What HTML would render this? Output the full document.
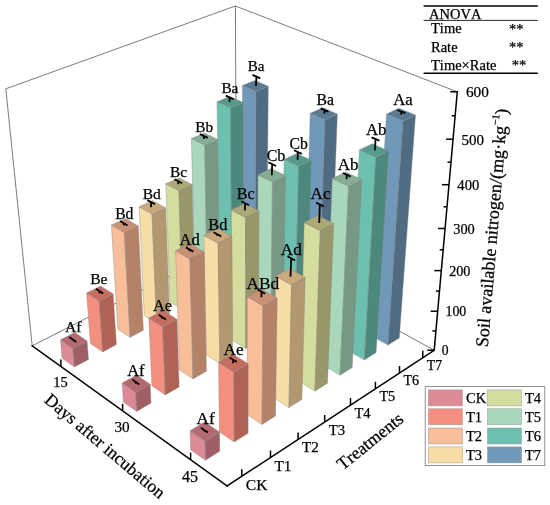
<!DOCTYPE html>
<html lang="en"><head><meta charset="utf-8"><title>Soil available nitrogen</title>
<style>html,body{margin:0;padding:0;background:#fff}svg{display:block}text{font-kerning:none;stroke:#000;stroke-width:.25px}</style></head>
<body>
<svg width="550" height="505" viewBox="0 0 550 505" font-family="'Liberation Serif', 'Times New Roman', serif" fill="#000">
<rect width="550" height="505" fill="#fff"/>
<line x1="32.2" y1="345.8" x2="5.8" y2="88.8" stroke="#444" stroke-width="0.7" stroke-linecap="butt"/>
<line x1="5.8" y1="88.8" x2="235.4" y2="6.0" stroke="#444" stroke-width="0.7" stroke-linecap="butt"/>
<line x1="235.4" y1="6.0" x2="457.3" y2="91.8" stroke="#444" stroke-width="0.7" stroke-linecap="butt"/>
<line x1="235.4" y1="6.0" x2="236.5" y2="242.0" stroke="#444" stroke-width="0.7" stroke-linecap="butt"/>
<line x1="32.2" y1="345.8" x2="236.5" y2="242.0" stroke="#444" stroke-width="0.7" stroke-linecap="butt"/>
<line x1="236.5" y1="242.0" x2="434.2" y2="350.2" stroke="#444" stroke-width="0.7" stroke-linecap="butt"/>
<polygon points="242.7,263.8 255.2,270.8 255.9,91.5 242.4,85.6" fill="#7098b8" stroke="#858585" stroke-width="0.4" stroke-linejoin="round"/>
<polygon points="255.2,270.8 266.7,264.7 268.3,86.3 255.9,91.5" fill="#506c83" stroke="#858585" stroke-width="0.4" stroke-linejoin="round"/>
<polygon points="242.4,85.6 255.9,91.5 268.3,86.3 254.8,80.5" fill="#5a7a93" stroke="#858585" stroke-width="0.4" stroke-linejoin="round"/>
<line x1="256.0" y1="86.0" x2="256.4" y2="76.6" stroke="#000" stroke-width="1.8" stroke-linecap="butt"/>
<line x1="252.5" y1="74.9" x2="260.3" y2="78.3" stroke="#000" stroke-width="1.8" stroke-linecap="butt"/>
<polygon points="219.2,276.1 231.7,283.3 230.5,107.9 217.0,101.7" fill="#6cc0b0" stroke="#858585" stroke-width="0.4" stroke-linejoin="round"/>
<polygon points="231.7,283.3 243.5,277.1 243.2,102.5 230.5,107.9" fill="#4d887d" stroke="#858585" stroke-width="0.4" stroke-linejoin="round"/>
<polygon points="217.0,101.7 230.5,107.9 243.2,102.5 229.7,96.5" fill="#569a8d" stroke="#858585" stroke-width="0.4" stroke-linejoin="round"/>
<line x1="229.5" y1="102.1" x2="229.7" y2="97.4" stroke="#000" stroke-width="1.8" stroke-linecap="butt"/>
<line x1="225.8" y1="95.6" x2="233.6" y2="99.2" stroke="#000" stroke-width="1.8" stroke-linecap="butt"/>
<polygon points="195.0,288.8 207.4,296.2 204.7,145.1 191.4,138.5" fill="#a8d8b9" stroke="#858585" stroke-width="0.4" stroke-linejoin="round"/>
<polygon points="207.4,296.2 219.6,289.8 217.7,139.4 204.7,145.1" fill="#779983" stroke="#858585" stroke-width="0.4" stroke-linejoin="round"/>
<polygon points="191.4,138.5 204.7,145.1 217.7,139.4 204.3,132.9" fill="#86ad94" stroke="#858585" stroke-width="0.4" stroke-linejoin="round"/>
<line x1="203.8" y1="139.0" x2="203.9" y2="136.0" stroke="#000" stroke-width="1.8" stroke-linecap="butt"/>
<line x1="200.0" y1="134.1" x2="207.8" y2="137.9" stroke="#000" stroke-width="1.8" stroke-linecap="butt"/>
<polygon points="170.0,301.9 182.4,309.5 178.9,190.7 165.8,183.7" fill="#d5dd9e" stroke="#858585" stroke-width="0.4" stroke-linejoin="round"/>
<polygon points="182.4,309.5 194.9,302.9 192.1,184.6 178.9,190.7" fill="#99976a" stroke="#858585" stroke-width="0.4" stroke-linejoin="round"/>
<polygon points="165.8,183.7 178.9,190.7 192.1,184.6 179.0,177.8" fill="#ada976" stroke="#858585" stroke-width="0.4" stroke-linejoin="round"/>
<line x1="178.2" y1="184.2" x2="178.3" y2="181.2" stroke="#000" stroke-width="1.8" stroke-linecap="butt"/>
<line x1="174.5" y1="179.2" x2="182.1" y2="183.2" stroke="#000" stroke-width="1.8" stroke-linecap="butt"/>
<polygon points="144.3,315.3 156.7,323.2 152.0,214.1 139.1,206.8" fill="#f8dca6" stroke="#858585" stroke-width="0.4" stroke-linejoin="round"/>
<polygon points="156.7,323.2 169.6,316.4 165.6,207.8 152.0,214.1" fill="#b3976f" stroke="#858585" stroke-width="0.4" stroke-linejoin="round"/>
<polygon points="139.1,206.8 152.0,214.1 165.6,207.8 152.6,200.6" fill="#c9a87c" stroke="#858585" stroke-width="0.4" stroke-linejoin="round"/>
<line x1="151.0" y1="207.3" x2="151.2" y2="202.2" stroke="#000" stroke-width="1.8" stroke-linecap="butt"/>
<line x1="147.4" y1="200.1" x2="155.0" y2="204.3" stroke="#000" stroke-width="1.8" stroke-linecap="butt"/>
<polygon points="117.8,329.2 130.1,337.4 124.3,232.5 111.4,225.0" fill="#f8be9a" stroke="#858585" stroke-width="0.4" stroke-linejoin="round"/>
<polygon points="130.1,337.4 143.4,330.3 138.3,225.9 124.3,232.5" fill="#b38267" stroke="#858585" stroke-width="0.4" stroke-linejoin="round"/>
<polygon points="111.4,225.0 124.3,232.5 138.3,225.9 125.4,218.5" fill="#c99174" stroke="#858585" stroke-width="0.4" stroke-linejoin="round"/>
<line x1="123.8" y1="225.4" x2="123.9" y2="223.2" stroke="#000" stroke-width="1.8" stroke-linecap="butt"/>
<line x1="120.2" y1="221.0" x2="127.6" y2="225.4" stroke="#000" stroke-width="1.8" stroke-linecap="butt"/>
<polygon points="90.4,343.5 102.7,351.9 99.2,301.1 86.6,293.0" fill="#f48f80" stroke="#858585" stroke-width="0.4" stroke-linejoin="round"/>
<polygon points="102.7,351.9 116.4,344.6 113.2,294.0 99.2,301.1" fill="#b06256" stroke="#858585" stroke-width="0.4" stroke-linejoin="round"/>
<polygon points="86.6,293.0 99.2,301.1 113.2,294.0 100.7,286.0" fill="#c66d60" stroke="#858585" stroke-width="0.4" stroke-linejoin="round"/>
<line x1="99.5" y1="293.5" x2="99.6" y2="291.1" stroke="#000" stroke-width="1.8" stroke-linecap="butt"/>
<line x1="96.0" y1="288.8" x2="103.2" y2="293.4" stroke="#000" stroke-width="1.8" stroke-linecap="butt"/>
<polygon points="62.1,358.3 74.4,367.0 72.8,348.4 60.5,339.8" fill="#de8a96" stroke="#858585" stroke-width="0.4" stroke-linejoin="round"/>
<polygon points="74.4,367.0 88.5,359.5 87.1,340.9 72.8,348.4" fill="#a05f64" stroke="#858585" stroke-width="0.4" stroke-linejoin="round"/>
<polygon points="60.5,339.8 72.8,348.4 87.1,340.9 74.8,332.5" fill="#b46a70" stroke="#858585" stroke-width="0.4" stroke-linejoin="round"/>
<line x1="72.8" y1="340.3" x2="72.8" y2="339.5" stroke="#000" stroke-width="1.8" stroke-linecap="butt"/>
<line x1="69.3" y1="337.1" x2="76.3" y2="341.9" stroke="#000" stroke-width="1.8" stroke-linecap="butt"/>
<polygon points="305.1,298.8 318.7,306.4 325.0,119.8 310.2,113.3" fill="#7098b8" stroke="#858585" stroke-width="0.4" stroke-linejoin="round"/>
<polygon points="318.7,306.4 330.2,299.8 337.4,114.1 325.0,119.8" fill="#506c83" stroke="#858585" stroke-width="0.4" stroke-linejoin="round"/>
<polygon points="310.2,113.3 325.0,119.8 337.4,114.1 322.6,107.8" fill="#5a7a93" stroke="#858585" stroke-width="0.4" stroke-linejoin="round"/>
<line x1="324.4" y1="113.7" x2="324.5" y2="110.0" stroke="#000" stroke-width="1.8" stroke-linecap="butt"/>
<line x1="320.6" y1="108.3" x2="328.4" y2="111.7" stroke="#000" stroke-width="1.8" stroke-linecap="butt"/>
<polygon points="281.6,312.1 295.1,320.0 298.6,166.3 284.1,159.4" fill="#6cc0b0" stroke="#858585" stroke-width="0.4" stroke-linejoin="round"/>
<polygon points="295.1,320.0 306.9,313.2 311.3,160.3 298.6,166.3" fill="#4d887d" stroke="#858585" stroke-width="0.4" stroke-linejoin="round"/>
<polygon points="284.1,159.4 298.6,166.3 311.3,160.3 296.7,153.4" fill="#569a8d" stroke="#858585" stroke-width="0.4" stroke-linejoin="round"/>
<line x1="297.6" y1="159.8" x2="297.9" y2="152.1" stroke="#000" stroke-width="1.8" stroke-linecap="butt"/>
<line x1="294.0" y1="150.3" x2="301.8" y2="153.9" stroke="#000" stroke-width="1.8" stroke-linecap="butt"/>
<polygon points="257.2,325.9 270.8,334.0 272.5,181.9 258.0,174.7" fill="#a8d8b9" stroke="#858585" stroke-width="0.4" stroke-linejoin="round"/>
<polygon points="270.8,334.0 283.0,327.0 285.6,175.6 272.5,181.9" fill="#779983" stroke="#858585" stroke-width="0.4" stroke-linejoin="round"/>
<polygon points="258.0,174.7 272.5,181.9 285.6,175.6 271.0,168.6" fill="#86ad94" stroke="#858585" stroke-width="0.4" stroke-linejoin="round"/>
<line x1="271.8" y1="175.2" x2="272.2" y2="164.1" stroke="#000" stroke-width="1.8" stroke-linecap="butt"/>
<line x1="268.3" y1="162.2" x2="276.1" y2="166.0" stroke="#000" stroke-width="1.8" stroke-linecap="butt"/>
<polygon points="232.1,340.2 245.7,348.5 245.6,217.5 231.2,209.9" fill="#d5dd9e" stroke="#858585" stroke-width="0.4" stroke-linejoin="round"/>
<polygon points="245.7,348.5 258.3,341.3 259.0,210.9 245.6,217.5" fill="#99976a" stroke="#858585" stroke-width="0.4" stroke-linejoin="round"/>
<polygon points="231.2,209.9 245.6,217.5 259.0,210.9 244.6,203.4" fill="#ada976" stroke="#858585" stroke-width="0.4" stroke-linejoin="round"/>
<line x1="244.9" y1="210.4" x2="245.2" y2="203.3" stroke="#000" stroke-width="1.8" stroke-linecap="butt"/>
<line x1="241.4" y1="201.3" x2="249.0" y2="205.3" stroke="#000" stroke-width="1.8" stroke-linecap="butt"/>
<polygon points="206.3,354.8 219.8,363.5 218.2,243.2 203.9,235.3" fill="#f8dca6" stroke="#858585" stroke-width="0.4" stroke-linejoin="round"/>
<polygon points="219.8,363.5 232.7,356.0 231.9,236.3 218.2,243.2" fill="#b3976f" stroke="#858585" stroke-width="0.4" stroke-linejoin="round"/>
<polygon points="203.9,235.3 218.2,243.2 231.9,236.3 217.6,228.5" fill="#c9a87c" stroke="#858585" stroke-width="0.4" stroke-linejoin="round"/>
<line x1="217.2" y1="235.8" x2="217.3" y2="234.3" stroke="#000" stroke-width="1.8" stroke-linecap="butt"/>
<line x1="213.5" y1="232.2" x2="221.1" y2="236.4" stroke="#000" stroke-width="1.8" stroke-linecap="butt"/>
<polygon points="179.5,370.0 193.0,378.9 189.9,258.9 175.6,250.7" fill="#f8be9a" stroke="#858585" stroke-width="0.4" stroke-linejoin="round"/>
<polygon points="193.0,378.9 206.4,371.2 204.1,251.8 189.9,258.9" fill="#b38267" stroke="#858585" stroke-width="0.4" stroke-linejoin="round"/>
<polygon points="175.6,250.7 189.9,258.9 204.1,251.8 189.8,243.7" fill="#c99174" stroke="#858585" stroke-width="0.4" stroke-linejoin="round"/>
<line x1="189.5" y1="251.2" x2="189.6" y2="249.5" stroke="#000" stroke-width="1.8" stroke-linecap="butt"/>
<line x1="185.9" y1="247.4" x2="193.3" y2="251.6" stroke="#000" stroke-width="1.8" stroke-linecap="butt"/>
<polygon points="151.9,385.7 165.3,394.9 162.6,326.9 148.8,318.1" fill="#f48f80" stroke="#858585" stroke-width="0.4" stroke-linejoin="round"/>
<polygon points="165.3,394.9 179.2,386.9 177.0,319.3 162.6,326.9" fill="#b06256" stroke="#858585" stroke-width="0.4" stroke-linejoin="round"/>
<polygon points="148.8,318.1 162.6,326.9 177.0,319.3 163.1,310.6" fill="#c66d60" stroke="#858585" stroke-width="0.4" stroke-linejoin="round"/>
<line x1="162.2" y1="318.7" x2="162.3" y2="317.1" stroke="#000" stroke-width="1.8" stroke-linecap="butt"/>
<line x1="158.7" y1="314.8" x2="165.9" y2="319.4" stroke="#000" stroke-width="1.8" stroke-linecap="butt"/>
<polygon points="123.3,401.9 136.7,411.4 135.7,392.4 122.2,382.9" fill="#de8a96" stroke="#858585" stroke-width="0.4" stroke-linejoin="round"/>
<polygon points="136.7,411.4 151.0,403.1 150.2,384.2 135.7,392.4" fill="#a05f64" stroke="#858585" stroke-width="0.4" stroke-linejoin="round"/>
<polygon points="122.2,382.9 135.7,392.4 150.2,384.2 136.6,374.9" fill="#b46a70" stroke="#858585" stroke-width="0.4" stroke-linejoin="round"/>
<line x1="135.7" y1="383.6" x2="135.8" y2="382.0" stroke="#000" stroke-width="1.8" stroke-linecap="butt"/>
<line x1="132.3" y1="379.6" x2="139.3" y2="384.4" stroke="#000" stroke-width="1.8" stroke-linecap="butt"/>
<polygon points="373.1,336.8 387.9,345.1 403.0,121.1 386.5,114.1" fill="#7098b8" stroke="#858585" stroke-width="0.4" stroke-linejoin="round"/>
<polygon points="387.9,345.1 399.3,337.9 415.5,115.0 403.0,121.1" fill="#506c83" stroke="#858585" stroke-width="0.4" stroke-linejoin="round"/>
<polygon points="386.5,114.1 403.0,121.1 415.5,115.0 398.9,108.2" fill="#5a7a93" stroke="#858585" stroke-width="0.4" stroke-linejoin="round"/>
<line x1="401.2" y1="114.6" x2="401.3" y2="111.6" stroke="#000" stroke-width="1.8" stroke-linecap="butt"/>
<line x1="397.3" y1="110.0" x2="405.3" y2="113.2" stroke="#000" stroke-width="1.8" stroke-linecap="butt"/>
<polygon points="349.5,351.4 364.4,360.0 375.8,157.3 359.4,149.9" fill="#6cc0b0" stroke="#858585" stroke-width="0.4" stroke-linejoin="round"/>
<polygon points="364.4,360.0 376.1,352.5 388.6,150.9 375.8,157.3" fill="#4d887d" stroke="#858585" stroke-width="0.4" stroke-linejoin="round"/>
<polygon points="359.4,149.9 375.8,157.3 388.6,150.9 372.2,143.7" fill="#569a8d" stroke="#858585" stroke-width="0.4" stroke-linejoin="round"/>
<line x1="375.0" y1="150.4" x2="375.5" y2="139.0" stroke="#000" stroke-width="1.8" stroke-linecap="butt"/>
<line x1="371.6" y1="137.3" x2="379.4" y2="140.7" stroke="#000" stroke-width="1.8" stroke-linecap="butt"/>
<polygon points="325.2,366.5 340.0,375.3 348.6,186.3 332.3,178.6" fill="#a8d8b9" stroke="#858585" stroke-width="0.4" stroke-linejoin="round"/>
<polygon points="340.0,375.3 352.2,367.6 361.8,179.6 348.6,186.3" fill="#779983" stroke="#858585" stroke-width="0.4" stroke-linejoin="round"/>
<polygon points="332.3,178.6 348.6,186.3 361.8,179.6 345.5,172.1" fill="#86ad94" stroke="#858585" stroke-width="0.4" stroke-linejoin="round"/>
<line x1="346.6" y1="179.1" x2="346.8" y2="174.8" stroke="#000" stroke-width="1.8" stroke-linecap="butt"/>
<line x1="342.9" y1="173.0" x2="350.7" y2="176.6" stroke="#000" stroke-width="1.8" stroke-linecap="butt"/>
<polygon points="300.1,382.0 314.9,391.2 320.3,230.6 304.2,222.4" fill="#d5dd9e" stroke="#858585" stroke-width="0.4" stroke-linejoin="round"/>
<polygon points="314.9,391.2 327.5,383.2 333.7,223.5 320.3,230.6" fill="#99976a" stroke="#858585" stroke-width="0.4" stroke-linejoin="round"/>
<polygon points="304.2,222.4 320.3,230.6 333.7,223.5 317.7,215.4" fill="#ada976" stroke="#858585" stroke-width="0.4" stroke-linejoin="round"/>
<line x1="319.2" y1="223.0" x2="319.9" y2="204.5" stroke="#000" stroke-width="1.8" stroke-linecap="butt"/>
<line x1="316.1" y1="202.6" x2="323.7" y2="206.4" stroke="#000" stroke-width="1.8" stroke-linecap="butt"/>
<polygon points="274.1,398.1 288.9,407.6 291.5,284.8 275.7,276.0" fill="#f8dca6" stroke="#858585" stroke-width="0.4" stroke-linejoin="round"/>
<polygon points="288.9,407.6 301.9,399.4 305.2,277.2 291.5,284.8" fill="#b3976f" stroke="#858585" stroke-width="0.4" stroke-linejoin="round"/>
<polygon points="275.7,276.0 291.5,284.8 305.2,277.2 289.5,268.6" fill="#c9a87c" stroke="#858585" stroke-width="0.4" stroke-linejoin="round"/>
<line x1="290.5" y1="276.6" x2="291.2" y2="258.3" stroke="#000" stroke-width="1.8" stroke-linecap="butt"/>
<line x1="287.4" y1="256.2" x2="295.0" y2="260.4" stroke="#000" stroke-width="1.8" stroke-linecap="butt"/>
<polygon points="247.2,414.7 262.0,424.5 262.9,305.8 247.2,296.7" fill="#f8be9a" stroke="#858585" stroke-width="0.4" stroke-linejoin="round"/>
<polygon points="262.0,424.5 275.5,416.0 277.2,297.9 262.9,305.8" fill="#b38267" stroke="#858585" stroke-width="0.4" stroke-linejoin="round"/>
<polygon points="247.2,296.7 262.9,305.8 277.2,297.9 261.5,288.9" fill="#c99174" stroke="#858585" stroke-width="0.4" stroke-linejoin="round"/>
<line x1="261.4" y1="297.3" x2="261.6" y2="291.7" stroke="#000" stroke-width="1.8" stroke-linecap="butt"/>
<line x1="257.9" y1="289.6" x2="265.3" y2="293.8" stroke="#000" stroke-width="1.8" stroke-linecap="butt"/>
<polygon points="219.4,431.9 234.2,442.1 233.8,372.3 218.5,362.5" fill="#f48f80" stroke="#858585" stroke-width="0.4" stroke-linejoin="round"/>
<polygon points="234.2,442.1 248.1,433.3 248.2,363.8 233.8,372.3" fill="#b06256" stroke="#858585" stroke-width="0.4" stroke-linejoin="round"/>
<polygon points="218.5,362.5 233.8,372.3 248.2,363.8 232.9,354.2" fill="#c66d60" stroke="#858585" stroke-width="0.4" stroke-linejoin="round"/>
<line x1="233.1" y1="363.2" x2="233.2" y2="359.7" stroke="#000" stroke-width="1.8" stroke-linecap="butt"/>
<line x1="229.6" y1="357.4" x2="236.8" y2="362.0" stroke="#000" stroke-width="1.8" stroke-linecap="butt"/>
<polygon points="190.6,449.8 205.4,460.3 205.0,441.1 190.1,430.7" fill="#de8a96" stroke="#858585" stroke-width="0.4" stroke-linejoin="round"/>
<polygon points="205.4,460.3 219.8,451.2 219.6,432.1 205.0,441.1" fill="#a05f64" stroke="#858585" stroke-width="0.4" stroke-linejoin="round"/>
<polygon points="190.1,430.7 205.0,441.1 219.6,432.1 204.6,421.9" fill="#b46a70" stroke="#858585" stroke-width="0.4" stroke-linejoin="round"/>
<line x1="204.4" y1="431.4" x2="204.4" y2="430.2" stroke="#000" stroke-width="1.8" stroke-linecap="butt"/>
<line x1="200.9" y1="427.8" x2="207.9" y2="432.6" stroke="#000" stroke-width="1.8" stroke-linecap="butt"/>
<text x="256.1" y="71.3" font-size="15.05" text-anchor="middle">Ba</text>
<text x="229.9" y="92.5" font-size="15.25" text-anchor="middle">Ba</text>
<text x="204.3" y="131.7" font-size="15.32" text-anchor="middle">Bb</text>
<text x="178.5" y="177.2" font-size="15.34" text-anchor="middle">Bc</text>
<text x="151.8" y="198.8" font-size="15.51" text-anchor="middle">Bd</text>
<text x="124.3" y="219.0" font-size="15.73" text-anchor="middle">Bd</text>
<text x="98.8" y="283.8" font-size="15.6" text-anchor="middle">Be</text>
<text x="73.2" y="332.4" font-size="15.61" text-anchor="middle">Af</text>
<text x="325.2" y="104.8" font-size="15.75" text-anchor="middle">Ba</text>
<text x="298.7" y="148.8" font-size="15.78" text-anchor="middle">Cb</text>
<text x="276.0" y="160.8" font-size="16.02" text-anchor="middle">Cb</text>
<text x="245.6" y="199.0" font-size="16.13" text-anchor="middle">Bc</text>
<text x="217.8" y="229.5" font-size="16.31" text-anchor="middle">Bd</text>
<text x="189.6" y="245.2" font-size="16.58" text-anchor="middle">Ad</text>
<text x="162.6" y="311.1" font-size="16.46" text-anchor="middle">Ae</text>
<text x="135.8" y="375.6" font-size="16.36" text-anchor="middle">Af</text>
<text x="402.9" y="104.6" font-size="16.74" text-anchor="middle">Aa</text>
<text x="376.2" y="134.7" font-size="16.87" text-anchor="middle">Ab</text>
<text x="348.1" y="170.0" font-size="17.05" text-anchor="middle">Ab</text>
<text x="320.6" y="199.4" font-size="17.12" text-anchor="middle">Ac</text>
<text x="291.3" y="254.6" font-size="17.12" text-anchor="middle">Ad</text>
<text x="262.8" y="288.8" font-size="17.39" text-anchor="middle">ABd</text>
<text x="233.6" y="354.5" font-size="17.3" text-anchor="middle">Ae</text>
<text x="205.6" y="424.0" font-size="17.18" text-anchor="middle">Af</text>
<line x1="32.2" y1="345.8" x2="227.1" y2="485.9" stroke="#000" stroke-width="1.5" stroke-linecap="square"/>
<line x1="227.1" y1="485.9" x2="434.2" y2="350.2" stroke="#000" stroke-width="1.5" stroke-linecap="square"/>
<line x1="434.2" y1="350.2" x2="457.3" y2="91.8" stroke="#000" stroke-width="1.5" stroke-linecap="square"/>
<line x1="60.9" y1="366.5" x2="60.9" y2="359.5" stroke="#000" stroke-width="1.5" stroke-linecap="butt"/>
<text x="60.4" y="386.8" font-size="14.52" text-anchor="middle">15</text>
<line x1="122.6" y1="410.8" x2="122.6" y2="403.8" stroke="#000" stroke-width="1.5" stroke-linecap="butt"/>
<text x="122.1" y="432.2" font-size="15.22" text-anchor="middle">30</text>
<line x1="190.6" y1="459.6" x2="190.6" y2="452.6" stroke="#000" stroke-width="1.5" stroke-linecap="butt"/>
<text x="190.1" y="482.0" font-size="15.99" text-anchor="middle">45</text>
<line x1="241.8" y1="476.3" x2="241.8" y2="469.3" stroke="#000" stroke-width="1.5" stroke-linecap="butt"/>
<text x="245.8" y="489.7" font-size="15.56" text-anchor="start">CK</text>
<line x1="270.5" y1="457.5" x2="270.5" y2="450.5" stroke="#000" stroke-width="1.5" stroke-linecap="butt"/>
<text x="274.5" y="470.7" font-size="15.29" text-anchor="start">T1</text>
<line x1="298.1" y1="439.4" x2="298.1" y2="432.4" stroke="#000" stroke-width="1.5" stroke-linecap="butt"/>
<text x="302.1" y="452.4" font-size="15.02" text-anchor="start">T2</text>
<line x1="324.7" y1="422.0" x2="324.7" y2="415.0" stroke="#000" stroke-width="1.5" stroke-linecap="butt"/>
<text x="328.7" y="434.7" font-size="14.76" text-anchor="start">T3</text>
<line x1="350.5" y1="405.1" x2="350.5" y2="398.1" stroke="#000" stroke-width="1.5" stroke-linecap="butt"/>
<text x="354.5" y="417.6" font-size="14.51" text-anchor="start">T4</text>
<line x1="375.4" y1="388.8" x2="375.4" y2="381.8" stroke="#000" stroke-width="1.5" stroke-linecap="butt"/>
<text x="379.4" y="401.0" font-size="14.27" text-anchor="start">T5</text>
<line x1="399.5" y1="373.0" x2="399.5" y2="366.0" stroke="#000" stroke-width="1.5" stroke-linecap="butt"/>
<text x="403.5" y="385.0" font-size="14.03" text-anchor="start">T6</text>
<line x1="422.8" y1="357.7" x2="422.8" y2="350.7" stroke="#000" stroke-width="1.5" stroke-linecap="butt"/>
<text x="426.8" y="369.6" font-size="13.81" text-anchor="start">T7</text>
<line x1="434.2" y1="350.2" x2="427.2" y2="350.2" stroke="#000" stroke-width="1.5" stroke-linecap="butt"/>
<text x="441.8" y="355.3" font-size="13.6" text-anchor="start">0</text>
<line x1="435.9" y1="330.9" x2="432.4" y2="330.9" stroke="#000" stroke-width="1.5" stroke-linecap="butt"/>
<line x1="437.7" y1="311.2" x2="430.7" y2="311.2" stroke="#000" stroke-width="1.5" stroke-linecap="butt"/>
<text x="445.5" y="316.4" font-size="13.85" text-anchor="start">100</text>
<line x1="439.5" y1="291.1" x2="436.0" y2="291.1" stroke="#000" stroke-width="1.5" stroke-linecap="butt"/>
<line x1="441.3" y1="270.6" x2="434.3" y2="270.6" stroke="#000" stroke-width="1.5" stroke-linecap="butt"/>
<text x="449.2" y="275.9" font-size="14.11" text-anchor="start">200</text>
<line x1="443.2" y1="249.8" x2="439.7" y2="249.8" stroke="#000" stroke-width="1.5" stroke-linecap="butt"/>
<line x1="445.1" y1="228.5" x2="438.1" y2="228.5" stroke="#000" stroke-width="1.5" stroke-linecap="butt"/>
<text x="453.2" y="233.9" font-size="14.39" text-anchor="start">300</text>
<line x1="447.0" y1="206.8" x2="443.5" y2="206.8" stroke="#000" stroke-width="1.5" stroke-linecap="butt"/>
<line x1="449.0" y1="184.7" x2="442.0" y2="184.7" stroke="#000" stroke-width="1.5" stroke-linecap="butt"/>
<text x="457.3" y="190.2" font-size="14.67" text-anchor="start">400</text>
<line x1="451.0" y1="162.2" x2="447.5" y2="162.2" stroke="#000" stroke-width="1.5" stroke-linecap="butt"/>
<line x1="453.1" y1="139.2" x2="446.1" y2="139.2" stroke="#000" stroke-width="1.5" stroke-linecap="butt"/>
<text x="461.5" y="144.7" font-size="14.97" text-anchor="start">500</text>
<line x1="455.2" y1="115.7" x2="451.7" y2="115.7" stroke="#000" stroke-width="1.5" stroke-linecap="butt"/>
<line x1="457.3" y1="91.8" x2="450.3" y2="91.8" stroke="#000" stroke-width="1.5" stroke-linecap="butt"/>
<text x="465.9" y="97.4" font-size="15.28" text-anchor="start">600</text>
<text x="43.6" y="401.5" font-size="17.6" text-anchor="start" transform="rotate(40.3 43.6 401.5)">Days after incubation</text>
<text x="342.8" y="470.8" font-size="17.7" text-anchor="start" transform="rotate(-38.9 342.8 470.8)">Treatments</text>
<text x="487.8" y="347.6" font-size="18.1" text-anchor="start" transform="rotate(-85.2 487.8 347.6)">Soil available nitrogen/(mg·kg<tspan dy="-8" font-size="10.5">−1</tspan><tspan dy="8">)</tspan></text>
<rect x="425.2" y="386.6" width="119.6" height="79" fill="#fff" stroke="#777" stroke-width="0.8"/>
<rect x="428.3" y="389.9" width="34.2" height="16" fill="#de8a96" stroke="#999" stroke-width="0.5"/>
<text x="466.0" y="403.2" font-size="14.5" text-anchor="start">CK</text>
<rect x="428.3" y="408.8" width="34.2" height="16" fill="#f48f80" stroke="#999" stroke-width="0.5"/>
<text x="466.0" y="422.1" font-size="14.5" text-anchor="start">T1</text>
<rect x="428.3" y="428.0" width="34.2" height="16" fill="#f8be9a" stroke="#999" stroke-width="0.5"/>
<text x="466.0" y="441.3" font-size="14.5" text-anchor="start">T2</text>
<rect x="428.3" y="446.9" width="34.2" height="16" fill="#f8dca6" stroke="#999" stroke-width="0.5"/>
<text x="466.0" y="460.2" font-size="14.5" text-anchor="start">T3</text>
<rect x="487.4" y="389.9" width="34.2" height="16" fill="#d5dd9e" stroke="#999" stroke-width="0.5"/>
<text x="525.0" y="403.2" font-size="14.5" text-anchor="start">T4</text>
<rect x="487.4" y="408.8" width="34.2" height="16" fill="#a8d8b9" stroke="#999" stroke-width="0.5"/>
<text x="525.0" y="422.1" font-size="14.5" text-anchor="start">T5</text>
<rect x="487.4" y="428.0" width="34.2" height="16" fill="#6cc0b0" stroke="#999" stroke-width="0.5"/>
<text x="525.0" y="441.3" font-size="14.5" text-anchor="start">T6</text>
<rect x="487.4" y="446.9" width="34.2" height="16" fill="#7098b8" stroke="#999" stroke-width="0.5"/>
<text x="525.0" y="460.2" font-size="14.5" text-anchor="start">T7</text>
<line x1="423.6" y1="6.1" x2="537.8" y2="6.1" stroke="#000" stroke-width="1.5" stroke-linecap="butt"/>
<line x1="423.6" y1="20.4" x2="537.8" y2="20.4" stroke="#111" stroke-width="0.9" stroke-linecap="butt"/>
<line x1="423.6" y1="73.2" x2="537.8" y2="73.2" stroke="#000" stroke-width="1.5" stroke-linecap="butt"/>
<text x="429.0" y="18.8" font-size="14.5" text-anchor="start">ANOVA</text>
<text x="431.0" y="33.3" font-size="14.5" text-anchor="start">Time</text>
<text x="431.0" y="51.9" font-size="14.5" text-anchor="start">Rate</text>
<text x="431.0" y="69.9" font-size="14.5" text-anchor="start">Time×Rate</text>
<text x="509.0" y="33.5" font-size="14.5" text-anchor="start">**</text>
<text x="509.0" y="52.1" font-size="14.5" text-anchor="start">**</text>
<text x="511.7" y="70.1" font-size="14.5" text-anchor="start">**</text>
</svg>
</body></html>
